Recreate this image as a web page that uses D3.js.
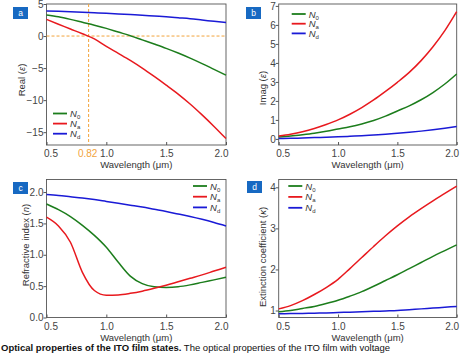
<!DOCTYPE html>
<html>
<head>
<meta charset="utf-8">
<script src="https://cdn.jsdelivr.net/npm/d3@7"></script>
<style>
  body { margin: 0; background: white; }
  text { font-family: "Liberation Sans", Arial, sans-serif; }
</style>
</head>
<body>
<div id="container"></div>
<script>
let w = 474;
let h = 353;

// wavelength grid (um)
let wavelength = [0.5, 0.6, 0.7, 0.8, 0.9, 1.0, 1.1, 1.2, 1.3, 1.4, 1.5, 1.6, 1.7, 1.8, 1.9, 2.0];
let xTicks = [0.5, 1.0, 1.5, 2.0];
let seriesNames = ["0", "a", "d"];   // subscripts of N
let enzLabel = "0.82";
let enzAt = 0.852;

// panel a: Real(eps)
let realN0 = [3.3, 3.0, 2.6, 2.15, 1.7, 1.2, 0.62, 0.05, -0.6, -1.25, -1.92, -2.65, -3.45, -4.3, -5.2, -6.1];
let realNa = [2.6, 1.85, 1.1, 0.35, -0.45, -1.62, -2.7, -3.8, -5.0, -6.3, -7.65, -9.05, -10.6, -12.3, -14.1, -16.0];
let realNd = [3.9, 3.85, 3.78, 3.7, 3.63, 3.55, 3.45, 3.35, 3.25, 3.12, 3.0, 2.85, 2.7, 2.5, 2.3, 2.1];
let realTicks = [-15, -10, -5, 0, 5];

// panel b: Imag(eps)
let imagN0 = [0.1, 0.15, 0.22, 0.3, 0.4, 0.52, 0.64, 0.79, 0.97, 1.2, 1.47, 1.74, 2.06, 2.44, 2.89, 3.42];
let imagNa = [0.15, 0.25, 0.38, 0.55, 0.76, 1.0, 1.3, 1.65, 2.05, 2.5, 2.98, 3.5, 4.12, 4.85, 5.7, 6.7];
let imagNd = [0.02, 0.03, 0.05, 0.07, 0.09, 0.11, 0.14, 0.17, 0.21, 0.25, 0.3, 0.35, 0.41, 0.48, 0.56, 0.65];
let imagTicks = [0, 1, 2, 3, 4, 5, 6, 7];

// panel c: refractive index n
let nN0 = [1.81, 1.72, 1.61, 1.47, 1.31, 1.12, 0.88, 0.66, 0.54, 0.49, 0.48, 0.49, 0.52, 0.56, 0.6, 0.64];
let nNa = [1.6, 1.46, 1.2, 0.72, 0.43, 0.355, 0.36, 0.385, 0.42, 0.465, 0.515, 0.57, 0.625, 0.68, 0.74, 0.8];
let nNd = [1.96, 1.945, 1.925, 1.905, 1.88, 1.85, 1.82, 1.79, 1.76, 1.725, 1.69, 1.65, 1.61, 1.565, 1.515, 1.46];
let nTicks = [0, 0.5, 1.0, 1.5, 2.0];

// panel d: extinction coefficient kappa
let kN0 = [0.97, 1.0, 1.05, 1.1, 1.17, 1.25, 1.35, 1.46, 1.59, 1.73, 1.87, 2.02, 2.17, 2.32, 2.46, 2.6];
let kNa = [1.04, 1.12, 1.24, 1.39, 1.56, 1.76, 2.02, 2.29, 2.56, 2.82, 3.06, 3.28, 3.48, 3.67, 3.85, 4.03];
let kNd = [0.92, 0.925, 0.93, 0.935, 0.94, 0.95, 0.96, 0.97, 0.98, 0.99, 1.0, 1.02, 1.04, 1.06, 1.08, 1.1];
let kTicks = [1, 2, 3, 4];

let colors = ["#1c7d1c", "#e8191e", "#1a1ad6"];

let viz = d3.select("#container").append("svg")
              .attr("width", w)
              .attr("height", h)
              .style("background-color", "white")
;

function drawPanel(p) {
  let xScale = d3.scaleLinear().domain([0.5, 2.0]).range([p.left, p.right]);
  let yScale = d3.scaleLinear().domain(p.yDomain).range([p.bottom, p.top]);
  let g = viz.append("g");

  // x axis, ticks inward
  let xAxis = g.append("g")
      .attr("transform", "translate(0," + p.bottom + ")")
      .call(d3.axisBottom(xScale).tickValues(xTicks).tickFormat(d3.format(".1f")).tickSizeInner(-3).tickSizeOuter(0))
  ;
  xAxis.select(".domain").remove();
  xAxis.selectAll("line").attr("stroke", "#555");
  xAxis.selectAll("text")
      .attr("font-size", 10)
      .attr("fill", "#444")
      .attr("y", 5)
      .attr("dx", (d, i) => i == 0 ? 4 : (i == xTicks.length - 1 ? -5 : 0))
  ;

  // y axis, ticks outward
  let yAxis = g.append("g")
      .attr("transform", "translate(" + p.left + ",0)")
      .call(d3.axisLeft(yScale).tickValues(p.yTicks).tickFormat(p.yFormat).tickSizeInner(3).tickSizeOuter(0).tickPadding(0))
  ;
  yAxis.select(".domain").remove();
  yAxis.selectAll("line").attr("stroke", "#555");
  yAxis.selectAll("text")
      .attr("font-size", 10)
      .attr("fill", "#444")
      .text(d => p.yFormat(d).replace("-", "\u2212"))
  ;

  // frame
  g.append("rect")
      .attr("x", p.left)
      .attr("y", p.top)
      .attr("width", p.right - p.left)
      .attr("height", p.bottom - p.top)
      .attr("fill", "none")
      .attr("stroke", "#555")
      .attr("stroke-width", 0.9)
  ;

  if (p.enz) {
    g.append("line")
        .attr("x1", p.left).attr("x2", p.right)
        .attr("y1", yScale(0)).attr("y2", yScale(0))
        .attr("stroke", "#f2a33a")
        .attr("stroke-width", 1)
        .attr("stroke-dasharray", "3,2")
    ;
    g.append("line")
        .attr("x1", xScale(enzAt)).attr("x2", xScale(enzAt))
        .attr("y1", p.top).attr("y2", p.bottom)
        .attr("stroke", "#f2a33a")
        .attr("stroke-width", 1)
        .attr("stroke-dasharray", "3,2")
    ;
    g.append("text")
        .text(enzLabel)
        .attr("x", xScale(enzAt) - 1)
        .attr("y", p.bottom + 12.2)
        .attr("text-anchor", "middle")
        .attr("font-size", 10)
        .attr("fill", "#f2a33a")
    ;
  }

  let line = d3.line()
      .x((d, i) => xScale(wavelength[i]))
      .y(d => yScale(d))
      .curve(d3.curveMonotoneX)
  ;
  p.series.forEach(function(s, i){
    g.append("path")
        .attr("d", line(s))
        .attr("fill", "none")
        .attr("stroke", colors[i])
        .attr("stroke-width", 1.5)
    ;
  });

  // legend
  seriesNames.forEach(function(name, i){
    let ly = p.legY + i * p.legStep;
    g.append("line")
        .attr("x1", p.legX).attr("x2", p.legX + 14)
        .attr("y1", ly).attr("y2", ly)
        .attr("stroke", colors[i])
        .attr("stroke-width", 1.8)
    ;
    let t = g.append("text")
        .attr("x", p.legX + 17)
        .attr("y", ly + 3.5)
        .attr("font-size", 9.5)
        .attr("fill", "#333")
    ;
    t.append("tspan").attr("font-style", "italic").text("N");
    t.append("tspan").attr("font-size", 6).attr("dy", 2).text(name);
  });

  // axis titles
  g.append("text")
      .attr("x", (p.left + p.right) / 2)
      .attr("y", p.bottom + 23)
      .attr("text-anchor", "middle")
      .attr("font-size", 9.5)
      .attr("fill", "#333")
      .text("Wavelength (\u03bcm)")
  ;
  let yt = g.append("text")
      .attr("transform", "translate(" + p.yTitleX + "," + p.yTitleY + ") rotate(-90)")
      .attr("text-anchor", "middle")
      .attr("font-size", 9.5)
      .attr("fill", "#333")
  ;
  yt.append("tspan").text(p.yTitle[0]);
  yt.append("tspan").attr("font-style", "italic").text(p.yTitle[1]);
  yt.append("tspan").text(p.yTitle[2]);

  // panel badge
  g.append("rect")
      .attr("x", p.badgeX)
      .attr("y", p.badgeY)
      .attr("width", 15)
      .attr("height", 12)
      .attr("fill", "#1769c2")
  ;
  g.append("text")
      .text(p.letter)
      .attr("x", p.badgeX + 7.5)
      .attr("y", p.badgeY + 9)
      .attr("text-anchor", "middle")
      .attr("font-size", 8.5)
      .attr("fill", "white")
  ;
}

drawPanel({
  letter: "a", left: 46.5, right: 226, top: 4, bottom: 145,
  yDomain: [-17, 5], yTicks: realTicks, yFormat: d3.format("d"),
  series: [realN0, realNa, realNd], enz: true,
  legX: 53, legY: 113.5, legStep: 10.1,
  yTitle: ["Real (", "\u03b5", ")"], yTitleX: 25, yTitleY: 80,
  badgeX: 13, badgeY: 7
});
drawPanel({
  letter: "b", left: 278.7, right: 456.7, top: 4, bottom: 145,
  yDomain: [-0.32, 7.1], yTicks: imagTicks, yFormat: d3.format("d"),
  series: [imagN0, imagNa, imagNd], enz: false,
  legX: 291.7, legY: 14, legStep: 9.7,
  yTitle: ["Imag (", "\u03b5", ")"], yTitleX: 266, yTitleY: 88,
  badgeX: 246, badgeY: 7
});
drawPanel({
  letter: "c", left: 46.5, right: 226, top: 179.5, bottom: 317.5,
  yDomain: [0, 2.2], yTicks: nTicks, yFormat: d3.format(".1f"),
  series: [nN0, nNa, nNd], enz: false,
  legX: 193, legY: 186, legStep: 10.7,
  yTitle: ["Refractive index (", "n", ")"], yTitleX: 28.5, yTitleY: 245,
  badgeX: 13, badgeY: 182
});
drawPanel({
  letter: "d", left: 278.7, right: 456.7, top: 179.5, bottom: 317.5,
  yDomain: [0.83, 4.19], yTicks: kTicks, yFormat: d3.format("d"),
  series: [kN0, kNa, kNd], enz: false,
  legX: 288.3, legY: 186, legStep: 10.9,
  yTitle: ["Extinction coefficient (", "\u03ba", ")"], yTitleX: 266, yTitleY: 257,
  badgeX: 247, badgeY: 181
});

// caption, cut off by the bottom edge
let cap = viz.append("text")
    .attr("x", 1)
    .attr("y", 351)
    .attr("font-size", 9.5)
    .attr("fill", "#111")
;
cap.append("tspan").attr("font-weight", "bold").text("Optical properties of the ITO film states.");
cap.append("tspan").text(" The optical properties of the ITO film with voltage");
</script>
</body>
</html>
